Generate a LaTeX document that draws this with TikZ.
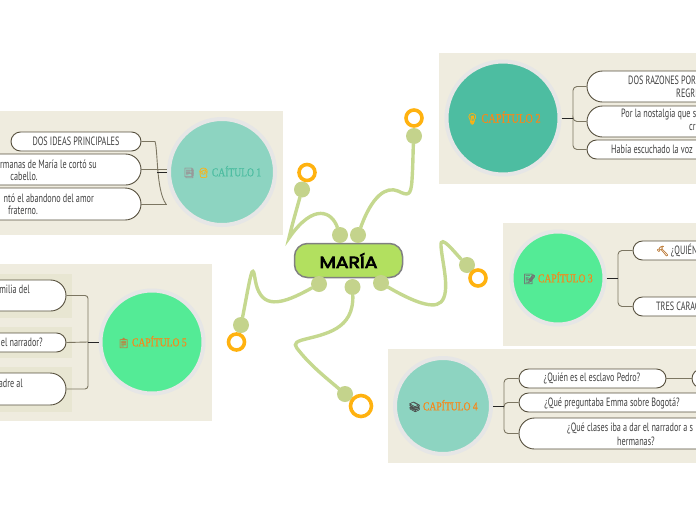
\documentclass[tikz,border=0pt]{standalone}
\usepackage{fontspec}
\usetikzlibrary{shapes.misc}
\setmainfont{Liberation Sans}
\newfontfamily\estrecha[FakeStretch=0.68]{PT Sans}
\newfontfamily\capfont[FakeStretch=0.8,FakeBold=0.6]{Liberation Serif}
\newfontfamily\titulofont[FakeBold=4.5,FakeStretch=1.18]{Poppins}
\newfontfamily\emojifont[FakeBold=1]{Noto Emoji}
\definecolor{panel}{HTML}{EFECDF}
\definecolor{sombra}{HTML}{E8E6D2}
\definecolor{aro}{HTML}{E6E6E6}
\definecolor{turquesa}{HTML}{8DD4C1}
\definecolor{jade}{HTML}{4DBDA1}
\definecolor{menta}{HTML}{54EB96}
\definecolor{naranja}{HTML}{F7881A}
\definecolor{lima}{HTML}{B2E05F}
\definecolor{oliva}{HTML}{C4D38C}
\definecolor{tallo}{HTML}{C5D88F}
\definecolor{ambar}{HTML}{FFB210}
\definecolor{linea}{HTML}{7C7662}
\definecolor{borde}{HTML}{57503E}
\tikzset{
  caja/.style={rounded rectangle,draw=borde,line width=0.9pt,fill=white,inner sep=0pt},
  capitulo/.style={circle,draw=aro,line width=4pt,text=naranja,font=\capfont\fontsize{12}{12}\selectfont,inner sep=0pt},
  texto/.style={inner sep=0pt,text=black!75,font=\estrecha\fontsize{12}{12}\selectfont},
  rama/.style={draw=linea,line width=0.9pt},
  punta/.style={draw=black!85,line width=0.9pt},
  tallo/.style={draw=tallo,line width=3.4pt,line cap=round},
  bola/.style={circle,fill=oliva,minimum size=16pt,inner sep=0pt},
  anillo/.style={circle,draw=ambar,fill=white,line width=3.6pt,inner sep=0pt}
}
\begin{document}
\begin{tikzpicture}[x=1pt,y=-1pt]
  \useasboundingbox (0,0) rectangle (696,520);
  \clip (0,0) rectangle (696,520);

  % Paneles
  \fill[panel] (0,111) rectangle (283,235);
  \fill[panel] (439,53) rectangle (696,184);
  \fill[panel] (503,223) rectangle (696,346);
  \fill[panel] (388,349) rectangle (696,463);
  \fill[panel] (0,264) rectangle (212,421);
  \fill[sombra] (0,274) rectangle (72,318);
  \fill[sombra] (0,327) rectangle (72,358);
  \fill[sombra] (0,367) rectangle (72,412);

  % Cajas: nombre/centro x/centro y/ancho/alto
  \foreach \nombre/\x/\y/\w/\h in {
    a1/76/141.5/130/19, a2/50/169.5/182/31, a3/50/204/182/32,
    b1/692/86.5/210/31, b2/692/121.5/210/31, b3/692/149.5/210/19,
    c1/708/250.5/150/19, c2/708/306.5/150/19,
    d1/592.5/378.5/147/19, d2/650/402.5/262/19, d3/650/433.5/262/31, d4/732/378.5/80/19,
    e1/-25/295.5/182/31, e2/-25/342.5/182/19, e3/-25/389/182/32}
    \node[caja,minimum width=\w,minimum height=\h] (\nombre) at (\x,\y) {};

  % Capitulos
  \node[capitulo,fill=turquesa,minimum size=106pt,text=jade] (cap1) at (222,172)
    {{\emojifont\fontsize{10}{10}\selectfont\textcolor{black!40}{📑}\,\textcolor{ambar}{👴}}\,CAÍTULO 1};
  \node[capitulo,fill=jade,minimum size=113pt,font=\capfont\fontsize{13}{13}\selectfont] (cap2) at (503,118)
    {{\emojifont\fontsize{11}{11}\selectfont\textcolor{ambar}{💡}}\,CAPÍTULO 2};
  \node[capitulo,fill=menta,minimum size=93pt] (cap3) at (558,278)
    {{\emojifont\fontsize{10}{10}\selectfont\textcolor{black!55}{📝}}\,CAPÍTULO 3};
  \node[capitulo,fill=turquesa,minimum size=96pt] (cap4) at (443,406)
    {{\emojifont\fontsize{10}{10}\selectfont\textcolor{black!70}{📚}}\,CAPÍTULO 4};
  \node[capitulo,fill=menta,minimum size=103pt] (cap5) at (152,342)
    {{\emojifont\fontsize{10}{10}\selectfont\textcolor{brown}{📋}}\,CAPÍTULO 5};

  % Uniones de las cajas
  \coordinate (t1) at (157,172);
  \coordinate (t2) at (573,118);
  \coordinate (t3) at (618,278);
  \coordinate (t4) at (504,406);
  \coordinate (t5) at (88,342);
  \draw[rama] (a1.east) -- (155,141.5) .. controls (158,150) and (156,190) .. (166,204);
  \draw[rama] (a2.east) -- (cap1.west |- a2.east);
  \draw[rama] (a3.east) -- (cap1.west |- a3.east);
  \draw[punta] (cap1.west) -- (t1);
  \foreach \c in {b1,b2,b3}
    \draw[rama,rounded corners=4pt] (\c.west) -| (t2);
  \foreach \c in {c1,c2}
    \draw[rama,rounded corners=4pt] (\c.west) -| (t3);
  \foreach \c in {d1,d2,d3}
    \draw[rama,rounded corners=4pt] (\c.west) -| (t4);
  \foreach \c in {e1,e3}
    \draw[rama,rounded corners=3pt] (\c.east) -| (t5);
  \draw[rama] (e2.east) -- (t5);
  \draw[rama] (d1.east) -- (d4.west);
  \draw[punta] (cap2.east) -- (t2);
  \draw[punta] (cap3.east) -- (t3);
  \draw[punta] (cap4.east) -- (t4);
  \draw[punta] (cap5.west) -- (t5);

  % Textos de las cajas
  \node[texto] (a1t) at (76,141.5) {DOS IDEAS PRINCIPALES};
  \node[texto,anchor=east] (a2t) at (97,164) {rmanas de María le cortó su};
  \node[texto] (a2u) at (24,176) {cabello.};
  \node[texto,anchor=east] (a3t) at (94,198) {ntó el abandono del amor};
  \node[texto] (a3u) at (23,210) {fraterno.};
  \node[texto,anchor=west] (b1t) at (628,80) {DOS RAZONES POR};
  \node[texto,anchor=west] (b1u) at (676,93) {REGRE};
  \node[texto,anchor=west] (b2t) at (621,115) {Por la nostalgia que s};
  \node[texto,anchor=west] (b2u) at (689,127) {cr};
  \node[texto,anchor=west] (b3t) at (611,149.5) {Había escuchado la voz};
  \node[texto,anchor=west] (c1t) at (656,250.5)
    {{\emojifont\fontsize{10}{10}\selectfont\textcolor{brown}{🔨}}\,¿QUIÉN};
  \node[texto,anchor=west] (c2t) at (656,306.5) {TRES CARAC};
  \node[texto] (d1t) at (592,378.5) {¿Quién es el esclavo Pedro?};
  \node[texto] (d2t) at (612,403) {¿Qué preguntaba Emma sobre Bogotá?};
  \node[texto,anchor=west] (d3t) at (567,428) {¿Qué clases iba a dar el narrador a s};
  \node[texto] (d3u) at (636,441) {hermanas?};
  \node[texto,anchor=east] (e1t) at (30,289) {milia del};
  \node[texto,anchor=east] (e2t) at (43,342.5) {el narrador?};
  \node[texto,anchor=east] (e3t) at (23,383) {adre al};

  % Centro
  \node[draw=black!50,line width=1.5pt,fill=lima,rounded corners=13pt,minimum width=108pt,
    minimum height=34pt,font=\titulofont\fontsize{16}{16}\selectfont] (maria) at (348.5,260.5) {MARÍA};

  % Bolas y anillos
  \foreach \nombre/\x/\y in {p1/340/235, p2/358/235, p3/319/284, p4/352.5/287, p5/381/283,
                             q1/302/189.5, q2/414/136, q3/467/265, q4/345/394, q5/241/325}
    \node[bola] (\nombre) at (\x,\y) {};
  \foreach \nombre/\x/\y/\r in {r1/307/172.5/16, r2/414/118/16, r3/478/278/16, r4/361/406/21, r5/236.5/342/16}
    \node[anillo,minimum size=\r] (\nombre) at (\x,\y) {};

  % Tallos
  \draw[tallo] (p1) .. controls (332,212) and (314,202) .. (289,238) .. controls (292,225) and (297,208) .. (q1);
  \draw[tallo] (p2) .. controls (372,196) and (386,186) .. (398,191) .. controls (408,196) and (411,196) .. (412,180) .. controls (413,165) and (413,150) .. (q2);
  \draw[tallo] (p5) .. controls (405,297) and (432,311) .. (441,302) .. controls (451,292) and (442,262) .. (441,246) .. controls (440,233) and (455,253) .. (q3);
  \draw[tallo] (p4) .. controls (354,330) and (325,334) .. (302,340) .. controls (292,343) and (295,346) .. (300,352) .. controls (312,367) and (330,381) .. (q4);
  \draw[tallo] (p3) .. controls (290,300) and (268,310) .. (259,292) .. controls (254,283) and (255,268) .. (252,272) .. controls (250,276) and (246,300) .. (q5);
\end{tikzpicture}
\end{document}
